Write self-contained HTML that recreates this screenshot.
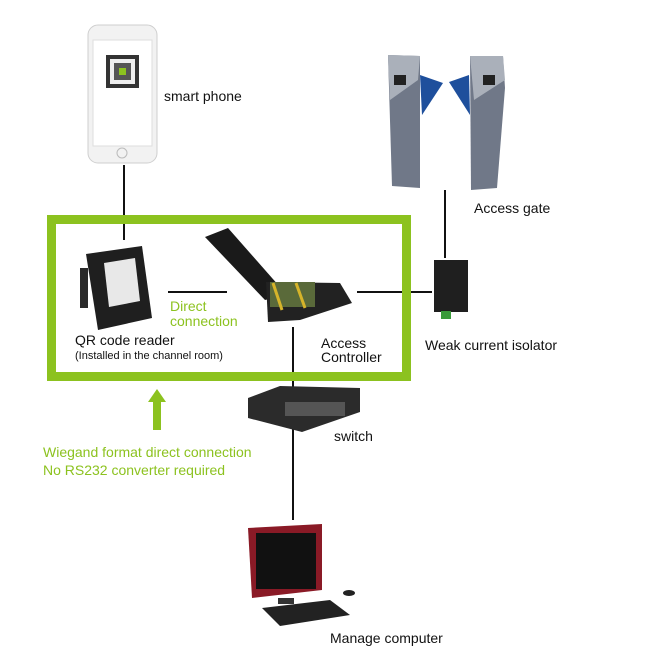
<!DOCTYPE html>
<html><head><meta charset="utf-8"><style>
html,body{margin:0;padding:0;background:#fff}
svg{display:block}
text{font-family:"Liberation Sans",sans-serif}
</style></head><body>
<svg width="646" height="664" viewBox="0 0 646 664">
<!-- lines -->
<g stroke="#111" stroke-width="2">
<line x1="124" y1="165" x2="124" y2="240"/>
<line x1="168" y1="292" x2="227" y2="292"/>
<line x1="357" y1="292" x2="432" y2="292"/>
<line x1="445" y1="190" x2="445" y2="258"/>
<line x1="293" y1="327" x2="293" y2="395"/>
<line x1="293" y1="428" x2="293" y2="520"/>
</g>
<!-- green frame -->
<rect x="51.5" y="219.5" width="355" height="157" fill="none" stroke="#8cc21f" stroke-width="9"/>
<!-- phone -->
<rect x="88" y="25" width="69" height="138" rx="10" fill="#f2f2f2" stroke="#cfcfcf"/>
<rect x="93" y="40" width="59" height="106" fill="#fff" stroke="#ddd"/>
<rect x="106" y="55" width="33" height="33" fill="#333"/>
<rect x="110" y="59" width="25" height="25" fill="#eee"/>
<rect x="114" y="63" width="17" height="17" fill="#555"/>
<rect x="119" y="68" width="7" height="7" fill="#8cc21f"/>
<circle cx="122" cy="153" r="5" fill="none" stroke="#bbb"/>
<!-- QR reader -->
<path d="M86 254 L142 246 L152 318 L98 330 Z" fill="#1f1f1f"/>
<path d="M104 263 L135 258 L140 301 L109 307 Z" fill="#e8e8e8"/>
<rect x="80" y="268" width="8" height="40" fill="#2a2a2a"/>
<!-- controller -->
<path d="M205 237 L228 228 L287 295 L265 300 Z" fill="#1a1a1a"/>
<path d="M266 282 L340 283 L352 303 L300 320 L268 322 Z" fill="#222"/>
<rect x="270" y="282" width="45" height="25" fill="#5a6a3a"/>
<line x1="273" y1="283" x2="282" y2="310" stroke="#d6b42a" stroke-width="3"/>
<line x1="296" y1="283" x2="305" y2="308" stroke="#d6b42a" stroke-width="3"/>
<!-- gate -->
<path d="M388 55 L420 56 L420 188 L392 186 Z" fill="#707888"/>
<path d="M388 55 L420 56 L418 80 L390 100 Z" fill="#aab0ba"/>
<path d="M470 56 L503 56 L505 88 L497 188 L471 190 Z" fill="#707888"/>
<path d="M470 56 L503 56 L505 80 L474 100 Z" fill="#aab0ba"/>
<path d="M420 75 L443 83 L422 115 Z" fill="#1e4f9c"/>
<path d="M469 75 L449 82 L470 115 Z" fill="#1e4f9c"/>
<rect x="394" y="75" width="12" height="10" fill="#222"/>
<rect x="483" y="75" width="12" height="10" fill="#222"/>
<!-- isolator -->
<rect x="434" y="260" width="34" height="52" fill="#1f1f1f"/>
<rect x="441" y="311" width="10" height="8" fill="#3a9a3a"/>
<!-- switch -->
<path d="M248 398 L280 386 L360 388 L360 412 L302 432 L248 418 Z" fill="#2b2b2b"/>
<rect x="285" y="402" width="60" height="14" fill="#555"/>
<!-- computer -->
<path d="M248 528 L322 524 L322 590 L252 598 Z" fill="#8a1a26"/>
<rect x="256" y="533" width="60" height="56" fill="#111"/>
<rect x="278" y="598" width="16" height="6" fill="#333"/>
<path d="M262 608 L330 600 L350 615 L280 626 Z" fill="#222"/>
<ellipse cx="349" cy="593" rx="6" ry="3" fill="#222"/>
<!-- green arrow -->
<path d="M157 389 L166 402 L161 402 L161 430 L153 430 L153 402 L148 402 Z" fill="#8cc21f"/>
<!-- text -->
<g font-size="14" fill="#111">
<text x="164" y="101">smart phone</text>
<text x="474" y="213">Access gate</text>
<text x="75" y="345">QR code reader</text>
<text x="75" y="359" font-size="11">(Installed in the channel room)</text>
<text x="321" y="348">Access</text>
<text x="321" y="362">Controller</text>
<text x="425" y="350">Weak current isolator</text>
<text x="334" y="441">switch</text>
<text x="330" y="643">Manage computer</text>
</g>
<g font-size="14" fill="#8cc21f">
<text x="170" y="311">Direct</text>
<text x="170" y="326">connection</text>
<text x="43" y="457">Wiegand format direct connection</text>
<text x="43" y="475">No RS232 converter required</text>
</g>
</svg>
</body></html>
